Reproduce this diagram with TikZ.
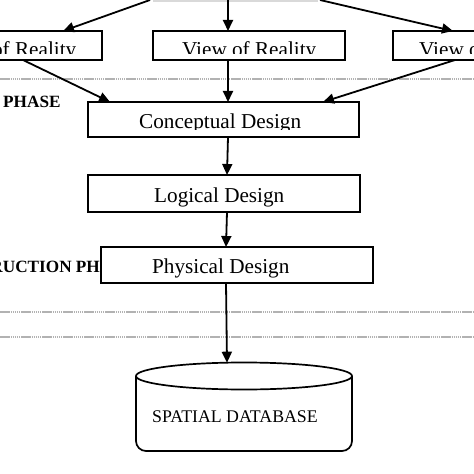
\documentclass[tikz,border=0pt]{standalone}
\usepackage{fontspec}
\setmainfont{Liberation Serif}
\usetikzlibrary{arrows.meta}
\begin{document}
\begin{tikzpicture}[x=1bp,y=-1bp,
  box/.style={draw=black,line width=1.7bp,fill=white,inner sep=0pt,outer sep=0pt},
  arr/.style={line width=1.8bp,-{Triangle[length=11bp,width=10bp]}},
  lbl/.style={anchor=base west,inner sep=0pt,font=\fontsize{21.2bp}{24bp}\selectfont},
  phase/.style={anchor=base west,inner sep=0pt,font=\fontsize{17.2bp}{20bp}\selectfont\bfseries},
  dbl/.style={anchor=base west,inner sep=0pt,font=\fontsize{17.8bp}{21bp}\selectfont},
  sep/.style={draw=gray!60,line width=1.3bp,dash pattern=on 1.5bp off 0.6bp}]
\useasboundingbox (0,0) rectangle (474,474);
% source band
\node[fill=gray!30,inner sep=0pt,minimum width=165bp,minimum height=12bp] (src) at (235.5,-4) {};
\coordinate (s1) at (150,0);
\coordinate (s2) at (228,0);
\coordinate (s3) at (320,0);
% view boxes
\node[box,minimum width=122bp,minimum height=29bp] (L1) at (41,45.5) {};
\node[box,minimum width=192bp,minimum height=29bp] (M1) at (249,45.5) {};
\node[box,minimum width=107bp,minimum height=29bp] (R1) at (446.5,45.5) {};
\begin{scope}
\clip (-100,31) rectangle (520,54);
\node[lbl] (t1) at (-58,57) {View of Reality};
\node[lbl] (t2) at (182,57) {View of Reality};
\node[lbl] (t3) at (419,57) {View of Reality};
\end{scope}
\draw[arr] (s1) -- ([xshift=22bp]L1.north);
\draw[arr] (s2) -- ([xshift=-21bp]M1.north);
\draw[arr] (s3) -- ([xshift=6.5bp]R1.north);
% separator
\draw[sep] (0,79) -- (474,79);
\node[phase] (ph1) at (3,108) {PHASE};
% conceptual
\node[box,minimum width=271bp,minimum height=35bp] (C) at (223.5,119.5) {};
\begin{scope}
\clip (88,102) rectangle (359,129.5);
\node[lbl] (tc) at (139,129) {Conceptual Design};
\end{scope}
\draw[arr] ([xshift=-18bp]L1.south) -- ([xshift=22bp]C.north west);
\draw[arr] ([xshift=-21bp]M1.south) -- ([xshift=4.5bp]C.north);
\draw[arr] ([xshift=8.5bp]R1.south) -- ([xshift=-36bp]C.north east);
% logical
\node[box,minimum width=272bp,minimum height=37bp] (Lg) at (224,193.5) {};
\node[lbl] (tl) at (154,203) {Logical Design};
\draw[arr] ([xshift=4.5bp]C.south) -- ([xshift=3bp]Lg.north);
% construction phase label
\node[phase] (ph2) at (-69,272) {CONSTRUCTION PHASE};
% physical
\node[box,minimum width=272bp,minimum height=36bp] (P) at (237,265) {};
\node[lbl] (tp) at (152,273) {Physical Design};
\draw[arr] ([xshift=3bp]Lg.south) -- ([xshift=-11bp]P.north);
% separators
\draw[sep] (0,312) -- (474,312);
\draw[sep] (0,337) -- (474,337);
% database cylinder
\draw[line width=1.7bp,rounded corners=10bp,fill=white] (136,376) -- (136,451) -- (352,451) -- (352,376);
\draw[line width=1.7bp,fill=white] (244,376) ellipse [x radius=108bp, y radius=13.5bp];
\coordinate (dbtop) at (227,362.7);
\node[dbl] (td) at (152,422) {SPATIAL DATABASE};
\draw[arr] ([xshift=-11bp]P.south) -- (dbtop);
\end{tikzpicture}
\end{document}
